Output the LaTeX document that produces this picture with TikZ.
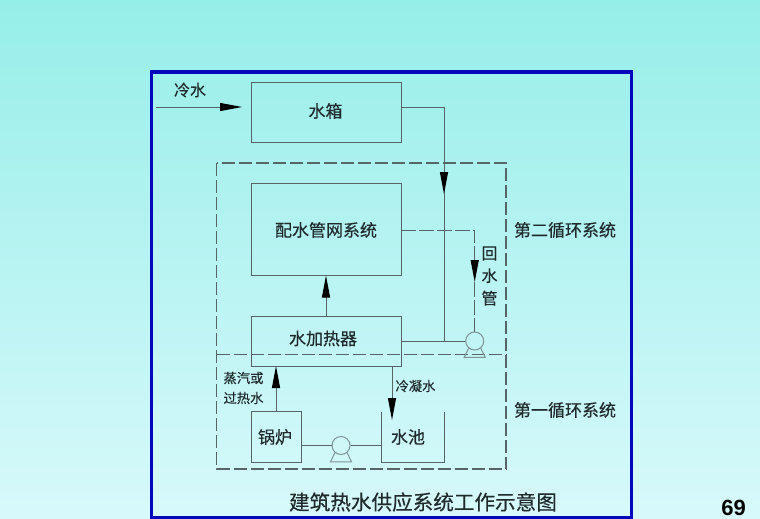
\documentclass[tikz,border=0pt]{standalone}
\usepackage{fontspec}
\setmainfont[FakeBold=0.25]{Noto Sans CJK SC}
\newfontfamily\numfont{Liberation Sans}
\usetikzlibrary{arrows.meta}
\definecolor{pipegray}{HTML}{566668}
\definecolor{pumpgray}{HTML}{7F9496}
\definecolor{textgray}{HTML}{1F2A2C}
\definecolor{framblue}{HTML}{0408BC}
\definecolor{bgtop}{HTML}{96EEE9}
\definecolor{bgbottom}{HTML}{D8F9FB}
\tikzset{
  box/.style={draw=pipegray,line width=1pt,inner sep=0pt},
  pipe/.style={draw=pipegray,line width=1pt},
  backpipe/.style={pipe,dash pattern=on 15pt off 3pt},
  loopline/.style={draw=pipegray,line width=1.1pt,dash pattern=on 13pt off 4pt},
  tipped/.style={pipe,-{Triangle[length=22pt,width=8pt,color=black]}},
  pumpbody/.style={draw=pumpgray,line width=1pt},
  tag/.style={text=textgray,font=\fontsize{17}{20}\selectfont,inner sep=0pt},
  smalltag/.style={text=textgray,font=\fontsize{13.3}{20}\selectfont,inner sep=0pt,align=center}
}
\begin{document}
\begin{tikzpicture}[x=1pt,y=-1pt]
        \fill[top color=bgtop,bottom color=bgbottom] (0,0) rectangle (760,519);
        \useasboundingbox (0,0) rectangle (760,519);

        \coordinate (FA) at (151,72);
        \coordinate (FB) at (631,517);
        \draw[draw=framblue,line width=3pt] (FA) rectangle (FB);

        % loop areas
        \coordinate (LA) at (216.5,163);
        \coordinate (LB) at (506,469);
        \coordinate (ML) at (216.5,354.5);
        \coordinate (MR) at (506,354.5);
        \draw[loopline] (LA) rectangle (LB);
        \draw[loopline] (ML) -- (MR);

        \node[box,minimum width=150pt,minimum height=60pt] (tank) at (326,112) {};
        \node[box,minimum width=150pt,minimum height=91.5pt] (net) at (326,229.7) {};
        \node[box,minimum width=150pt,minimum height=50pt] (heater) at (326,341) {};
        \node[box,minimum width=50.5pt,minimum height=50.5pt] (boiler) at (276.3,437.2) {};

        \node[tag] (tanktext) at (325.5,111) {水箱};
        \node[tag] (nettext) at (326,230) {配水管网系统};
        \node[tag] (heatertext) at (323,338.5) {水加热器};
        \node[tag] (boilertext) at (275,437) {锅炉};
        \node[tag] (pooltext) at (408,437) {水池};
        \node[tag,font=\fontsize{16}{20}\selectfont] (coldtext) at (190,90) {冷水};
        \node[tag] (secondtext) at (565,230) {第二循环系统};
        \node[tag] (firsttext) at (565,410) {第一循环系统};
        \node[tag,font=\fontsize{16}{22.5}\selectfont,align=center] (backtext) at (489.5,276) {回\\水\\管};
        \node[smalltag] (steamtext) at (243.5,388) {蒸汽或\\过热水};
        \node[smalltag] (condtext) at (415.5,386) {冷凝水};
        \node[tag,font=\fontsize{20.6}{24}\selectfont] (titletext) at (423,502) {建筑热水供应系统工作示意图};
        \node[text=black,inner sep=0pt,font=\fontsize{22}{24}\selectfont\numfont\bfseries] (pagetext) at (733.5,507.5) {69};

        % pool
        \coordinate (PA) at (381.5,412);
        \coordinate (PB) at (381.5,462.5);
        \coordinate (PC) at (444.5,462.5);
        \coordinate (PD) at (444.5,412);
        \draw[pipe] (PA) -- (PB) -- (PC) -- (PD);

        % pumps
        \node[pumpbody,circle,minimum size=18pt,inner sep=0pt] (pumpone) at (341,445.5) {};
        \node[pumpbody,circle,minimum size=18pt,inner sep=0pt] (pumptwo) at (474.7,341) {};
        \foreach \p in {pumpone,pumptwo} {
          \draw[pumpbody] ([shift={(-6,7)}]\p.center) -- ([shift={(-10.5,16.3)}]\p.center) -- ([shift={(10.5,16.3)}]\p.center) -- ([shift={(6,7)}]\p.center);
        }

        % water supply
        \coordinate (CA) at (156,107);
        \coordinate (CB) at (242,107);
        \draw[tipped] (CA) -- (CB);

        \coordinate (TA) at (401,107);
        \coordinate (TB) at (444,107);
        \coordinate (TC) at (444,194);
        \coordinate (TD) at (444,341);
        \coordinate (HA) at (401,341);
        \draw[pipe] (TA) -- (TB) -- (TD);
        \draw[tipped] (TB) -- (TC);
        \draw[pipe] (HA) -- (pumptwo.west);

        \coordinate (NB) at (326,316);
        \coordinate (NT) at (326,275.5);
        \draw[tipped] (NB) -- (NT);

        % return pipe
        \coordinate (RA) at (401,230);
        \coordinate (RB) at (474.7,230);
        \coordinate (RC) at (474.7,282);
        \coordinate (RD) at (474.7,252);
        \draw[backpipe] (RA) -- (RB) -- (pumptwo.north);
        \draw[tipped] (RD) -- (RC);

        % first loop
        \coordinate (SA) at (276,412);
        \coordinate (SB) at (276,366);
        \draw[tipped] (SA) -- (SB);
        \coordinate (DA) at (392,366);
        \coordinate (DB) at (392,420);
        \draw[tipped] (DA) -- (DB);
        \draw[pipe] (boiler.east |- pumpone) -- (pumpone.west);
        \draw[pipe] (pumpone.east) -- (PA |- pumpone);

    \end{tikzpicture}
\end{document}
